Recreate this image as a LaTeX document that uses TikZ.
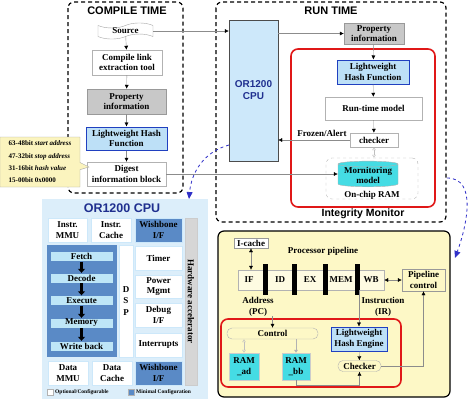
\documentclass[tikz,border=0pt]{standalone}
\usepackage{fontspec}
\setmainfont{Liberation Serif}
\newfontfamily\headfont{Liberation Sans}
\usetikzlibrary{arrows.meta,shapes.symbols,shapes.geometric,shapes.callouts}
\definecolor{propgray}{HTML}{C8C8C8}
\definecolor{hashfill}{HTML}{BDE0F7}
\definecolor{hashedge}{HTML}{2040C0}
\definecolor{cpufill}{HTML}{CDE8FA}
\definecolor{cputext}{HTML}{1F2F8F}
\definecolor{ramcyan}{HTML}{45DCE4}
\definecolor{panelblue}{HTML}{DCEEFA}
\definecolor{wbblue}{HTML}{5A8AC6}
\definecolor{stagecyan}{HTML}{BEE6F7}
\definecolor{hwgray}{HTML}{D6D6D6}
\definecolor{pipeyellow}{HTML}{FDF8C6}
\definecolor{notefill}{HTML}{FBF4BE}
\definecolor{dashblue}{HTML}{3030C8}
\definecolor{monred}{HTML}{E01818}
\newcommand\hd{\headfont\bfseries}
\newcommand\fs[2]{\fontsize{#1}{#2}\selectfont}

\begin{document}
\begin{tikzpicture}[x=1pt,y=-1pt,
  every node/.style={font=\bfseries\fs{9}{10.5}, inner sep=0pt, align=center},
  plainbox/.style={draw=black!30, fill=white},
  graybox/.style={draw=black!40, fill=propgray},
  hashbox/.style={draw=hashedge, line width=1pt, fill=hashfill},
  partbox/.style={draw=cpufill, fill=white},
  wbbox/.style={draw=cpufill, fill=wbblue},
  stagebox/.style={draw=wbblue, fill=stagecyan, minimum width=63, minimum height=10},
  zone/.style={dashed, dash pattern=on 4pt off 3pt, line width=1.2pt, rounded corners=6pt},
  conn/.style={draw=black!45, -{Latex[length=4pt,width=4pt,color=black]}},
  bothconn/.style={draw=black!45, {Latex[length=4pt,width=4pt,color=black]}-{Latex[length=4pt,width=4pt,color=black]}},
  hollow/.style={draw=black!25, {Latex[open,length=3pt,width=4pt]}-{Latex[open,length=3pt,width=4pt]}},
  bluedash/.style={draw=dashblue, dashed, thick, -{Triangle[length=7pt,width=6pt,color=dashblue]}},
  bigdown/.style={line width=2.2pt, -{Triangle[length=4pt,width=7pt]}}]
\useasboundingbox (0,0) rectangle (474,400);

% compile time
\draw[zone] (68,2) rectangle (183,193);
\node[font=\hd\fs{11}{13}] (ctitle) at (127,11) {COMPILE TIME};
\node[tape, draw=black!35, fill=white, minimum width=55, minimum height=14,
  tape bend top=in and out, tape bend bottom=in and out] (src) at (125.5,31) {Source};
\node[plainbox, minimum width=70, minimum height=25] (clink) at (127,62.5) {Compile link\\extraction tool};
\node[graybox, minimum width=79, minimum height=25] (pinfoc) at (126.5,101.5) {Property\\information};
\node[hashbox, minimum width=81, minimum height=23] (hashc) at (126.5,138.5) {Lightweight Hash\\Function};
\node[plainbox, minimum width=79, minimum height=24] (digest) at (126.5,174) {Digest\\information block};
\draw[conn] (src) -- (clink);
\draw[conn] (clink) -- (pinfoc);
\draw[conn] (pinfoc) -- (hashc);
\draw[conn] (hashc) -- (digest);

\node[rectangle callout, callout absolute pointer={(89,167)}, draw=black!35, fill=notefill,
  minimum width=80, minimum height=50, align=left, font=\bfseries\fs{7}{12.3}] (note) at (40,162)
  {63-48bit \textit{start address}\\47-32bit \textit{stop address}\\31-16bit \textit{hash value}\\15-00bit 0x0000};

% run time
\draw[zone] (216,2) rectangle (446,222);
\node[font=\hd\fs{11}{13}] (rtitle) at (331,11) {RUN TIME};
\node[draw=black!70, fill=cpufill, minimum width=49, minimum height=141,
  font=\hd\fs{10}{12}, text=cputext] (cpu) at (253.5,90.5) {OR1200\\CPU};
\node[graybox, minimum width=60, minimum height=21] (pinfor) at (374,33.5) {Property\\information};
\draw[monred, line width=1.6pt, rounded corners=7pt] (291,49) rectangle (435,207);
\node[hashbox, minimum width=72, minimum height=24] (hashr) at (373,72) {Lightweight\\Hash Function};
\node[plainbox, minimum width=97, minimum height=23] (rtmodel) at (373.5,108.5) {Run-time model};
\node[plainbox, minimum width=48, minimum height=14] (chk) at (374,140) {checker};
\node[draw=black!30, dashed, rounded corners=6pt, minimum width=92, minimum height=41] (onchip) at (372,178.5) {};
\node[cylinder, shape border rotate=90, aspect=0.12, draw=black!30, fill=ramcyan,
  minimum width=60, minimum height=23] (monmodel) at (368,175.5) {Mornitoring\\model};
\node (ramlbl) at (372,195) {On-chip RAM};
\node[font=\hd\fs{10.5}{12}] (imlbl) at (363,214) {Integrity Monitor};
\node (frozen) at (322,133) {Frozen/Alert};

\draw[conn] (src.east) -- (src.east -| cpu.west);
\draw[conn] (cpu.east |- pinfor.west) -- (pinfor.west);
\draw[conn] (pinfor) -- (hashr);
\draw[conn] (hashr) -- (rtmodel);
\draw[conn] (rtmodel) -- (chk);
\draw[conn] (chk.west) -- (chk.west -| cpu.east);
\draw[hollow] (chk.south) -- (onchip.north -| chk.south);
\draw[conn] (digest.east) -- (digest.east -| monmodel.west);

% hand-over arrows
\coordinate (cpuleft) at (229,145);
\coordinate (paneltop) at (189,199);
\coordinate (rtright) at (447,178);
\coordinate (pipetop) at (455,258);
\draw[bluedash] (cpuleft) to[out=195,in=85] (paneltop);
\draw[bluedash] (rtright) to[out=0,in=70] (pipetop);

% OR1200 panel
\fill[panelblue] (42,199) rectangle (208,399);
\node[font=\hd\fs{12.5}{14}, text=cputext] (ptitle) at (122,208) {OR1200 CPU};
\node[partbox, minimum width=39, minimum height=24] (immu) at (67.5,230) {Instr.\\MMU};
\node[partbox, minimum width=40, minimum height=24] (icache) at (111,230) {Instr.\\Cache};
\node[wbbox, minimum width=47, minimum height=24] (wbtop) at (158.5,230) {Wishbone\\I/F};
\node[draw=black!20, fill=hwgray, rotate=-90, minimum width=167, minimum height=12] (hwacc) at (191,301.5) {Hardware accelerator};
\node[fill=wbblue, minimum width=70, minimum height=112] (core) at (82,301) {};
\foreach \nm/\txt/\yy in {fetch/Fetch/256.5, decode/Decode/278, execute/Execute/300.5, memory/Memory/323, wback/Write back/346}
  \node[stagebox] (\nm) at (81.5,\yy) {\txt};
\foreach \a/\b in {fetch/decode, decode/execute, execute/memory, memory/wback}
  \draw[bigdown] (\a) -- (\b);
\node[partbox, minimum width=14, minimum height=112, font=\bfseries\fs{9}{11.5}] (dsp) at (126,301) {D\\S\\P};
\node[partbox, minimum width=47, minimum height=24] (timer) at (158.5,258) {Timer};
\node[partbox, minimum width=47, minimum height=23] (power) at (158.5,286.5) {Power\\Mgmt};
\node[partbox, minimum width=47, minimum height=24] (debug) at (158.5,315) {Debug\\I/F};
\node[partbox, minimum width=47, minimum height=24] (intr) at (158.5,345) {Interrupts};
\node[partbox, minimum width=40, minimum height=24] (dmmu) at (68,373) {Data\\MMU};
\node[partbox, minimum width=40, minimum height=24] (dcache) at (112,373) {Data\\Cache};
\node[wbbox, minimum width=47, minimum height=24] (wbbot) at (158.5,373) {Wishbone\\I/F};
\node[draw=black!30, fill=white, minimum size=6] (keyopt) at (50,392) {};
\node[anchor=west, font=\bfseries\fs{5.5}{6}] (keyoptlbl) at (55,392) {Optional/Configurable};
\node[draw=black!30, fill=wbblue, minimum size=6] (keymin) at (131,392) {};
\node[anchor=west, font=\bfseries\fs{5.5}{6}] (keyminlbl) at (136,392) {Minimal Configuration};

% processor pipeline
\draw[line width=1.2pt, fill=pipeyellow, rounded corners=6pt] (218,231) rectangle (450,397);
\node[plainbox, draw=black!40, minimum width=34, minimum height=10] (icache2) at (251,243) {I-cache};
\node (pplbl) at (323,251) {Processor pipeline};
\node[draw=black!30, fill=pipeyellow!50!white, minimum width=146, minimum height=20] (pipe) at (311,280) {};
\foreach \lbl/\lx in {IF/249, ID/280, EX/310, MEM/341, WB/371}
  \node (st\lbl) at (\lx,280) {\lbl};
\foreach \bx in {265,294,325,357}
  \fill (\bx-2.5,264) rectangle (\bx+2.5,295);
\node[plainbox, draw=black!40, fill=pipeyellow, minimum width=43, minimum height=22] (pctrl) at (423.5,280) {Pipeline\\control};
\node[font=\bfseries\fs{9}{11}] (pclbl) at (258,306.5) {Address\\(PC)};
\node[font=\bfseries\fs{9}{11}] (irlbl) at (383,306.5) {Instruction\\(IR)};
\draw[bothconn] (icache2.south) -- (icache2.south |- pipe.north);
\draw[bothconn] (pipe.east) -- (pctrl.west);

\draw[monred, line width=1.6pt, rounded corners=7pt] (221,319) rectangle (401,387);
\node[draw=black!30, fill=pipeyellow, rounded corners=5pt, minimum width=91, minimum height=11] (ctrl) at (272.5,333.5) {Control};
\node[draw=black!20, fill=ramcyan, minimum width=30, minimum height=27] (ramad) at (244,366.5) {RAM\\\_ad};
\node[draw=black!20, fill=ramcyan, minimum width=28, minimum height=27] (rambb) at (296,366.5) {RAM\\\_bb};
\node[hashbox, minimum width=56, minimum height=24] (hashe) at (359,339) {Lightweight\\Hash Engine};
\node[draw=black!30, fill=pipeyellow, rounded corners=5pt, minimum width=43, minimum height=11] (chk2) at (359.5,366) {Checker};
\draw[conn] (pclbl.south -| ctrl.north) -- (ctrl.north);
\draw[hollow] (ctrl.south -| ramad.north) -- (ramad.north);
\draw[draw=black!30, -{Latex[length=3pt,width=4pt]}] (ctrl.south -| rambb.north) -- (rambb.north);
\draw[conn] (pipe.south -| hashe.north) -- (hashe.north);
\draw[conn] (hashe) -- (chk2);
\draw[conn] (rambb.south) -- ++(0,5) -| (chk2.south);
\draw[conn] (chk2.east) -| (pctrl.south);
\end{tikzpicture}
\end{document}
